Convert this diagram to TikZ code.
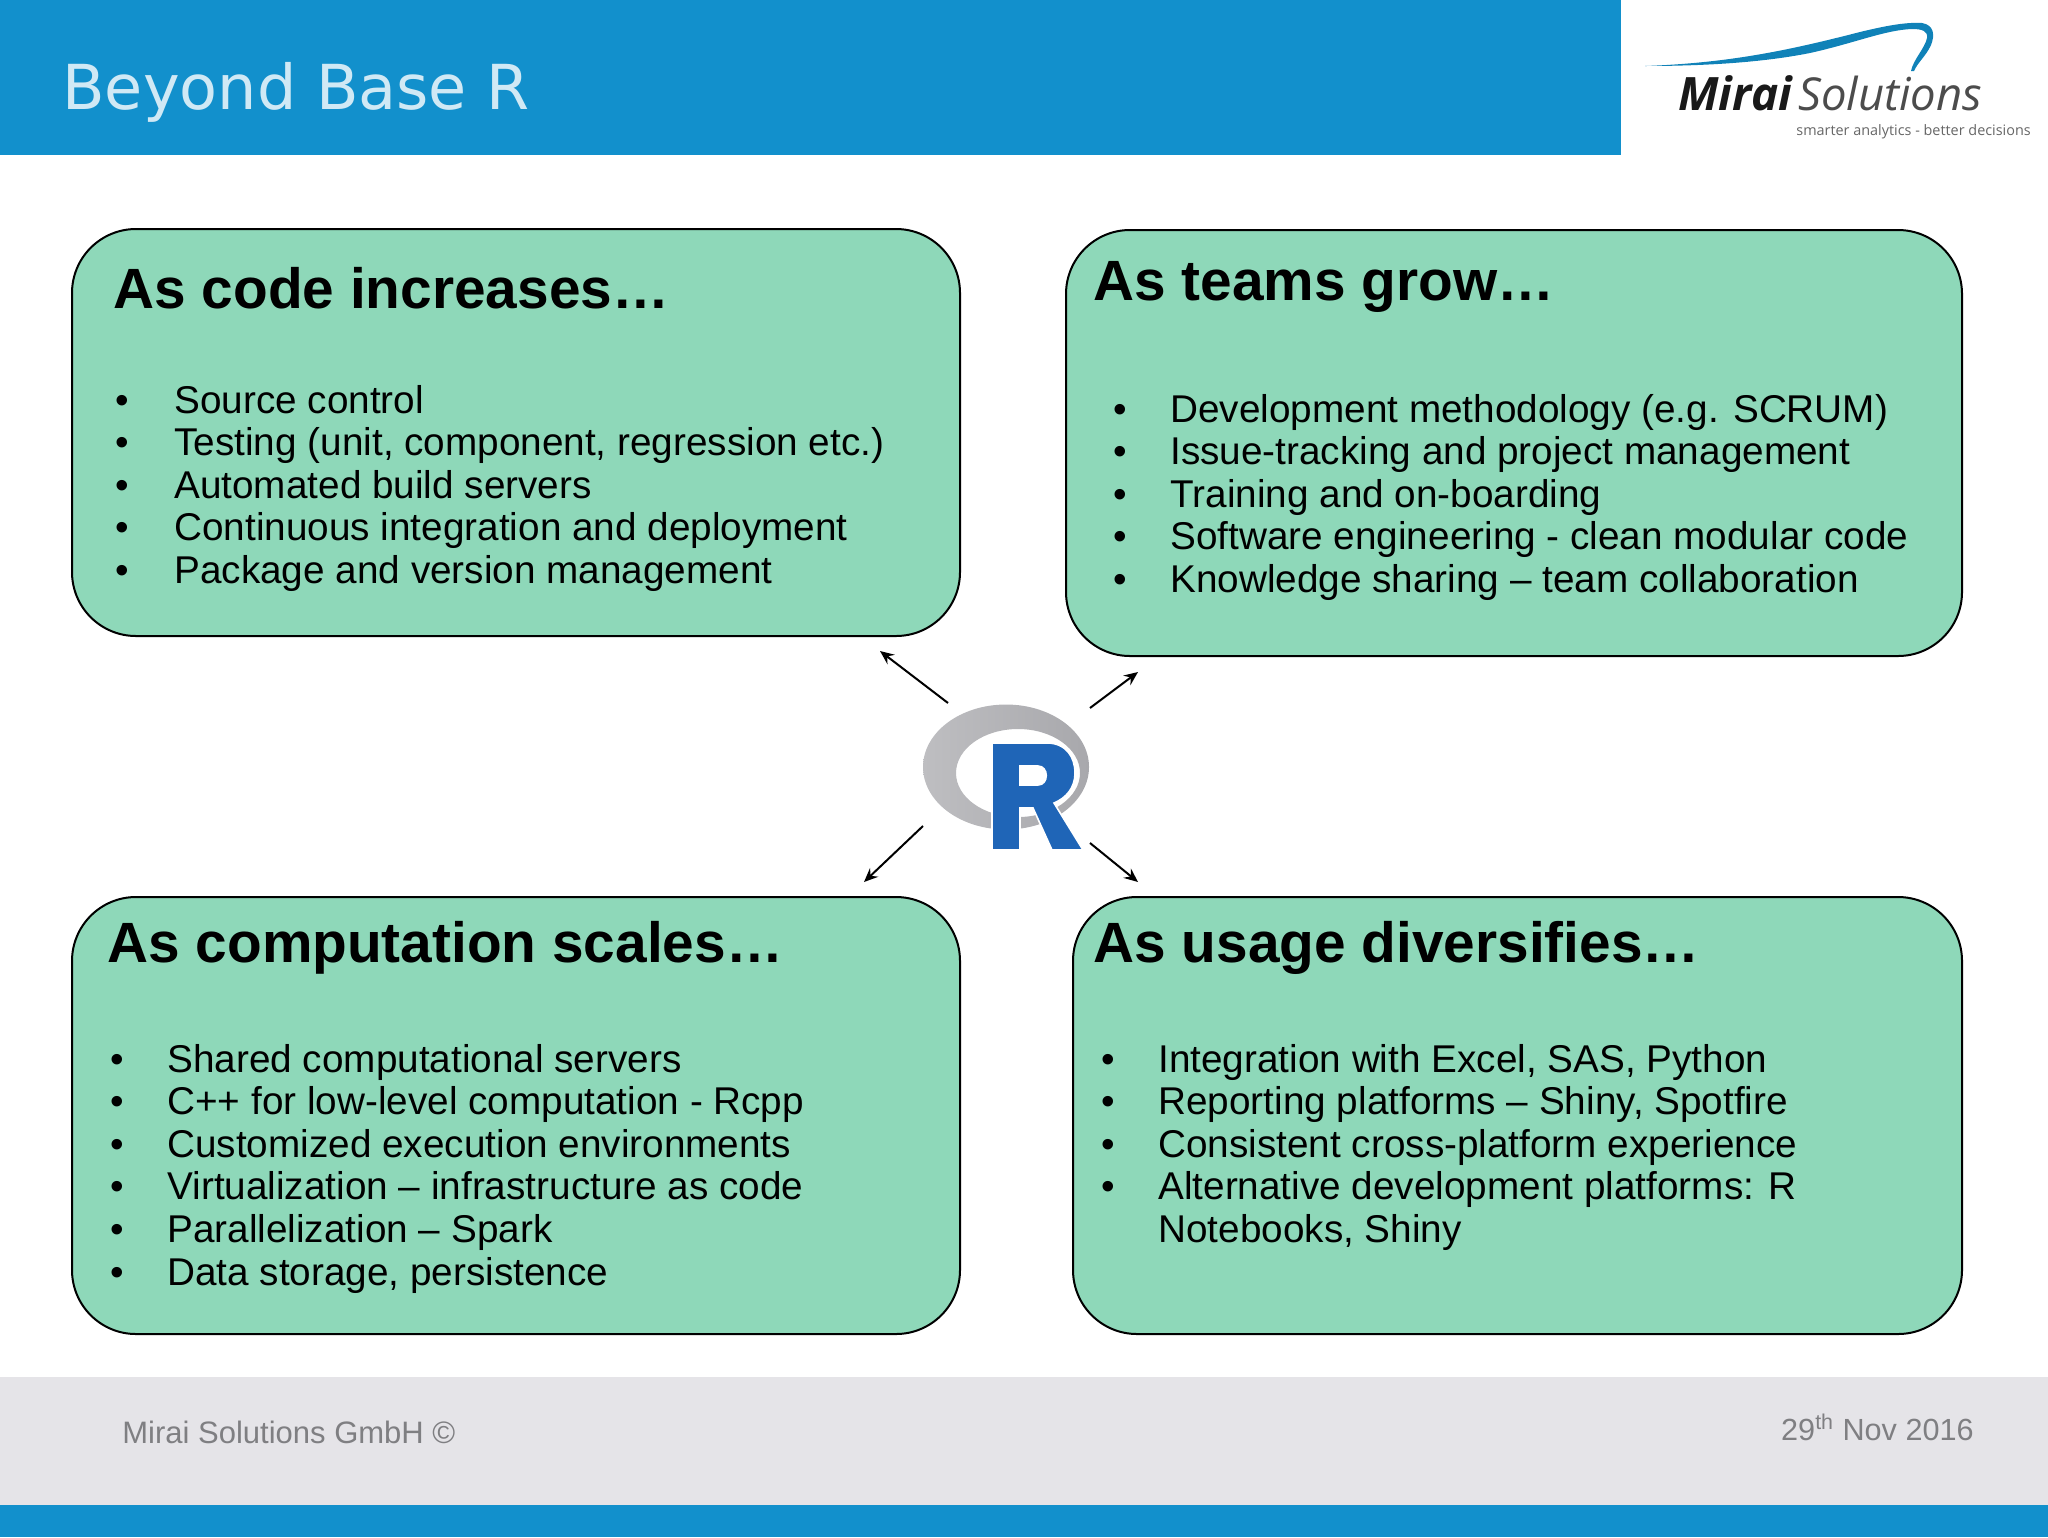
\documentclass[tikz,border=0pt]{standalone}
\usepackage{fontspec}
\setmainfont{Liberation Sans}
\newfontfamily\titlefont{DejaVu Sans}
\newfontfamily\logofont{Open Sans}
\usetikzlibrary{arrows.meta}
\definecolor{miraiblue}{HTML}{1290CC}
\definecolor{boxgreen}{HTML}{8ED8B9}
\definecolor{footgrey}{HTML}{E5E4E8}
\definecolor{footink}{HTML}{7F7F82}
\definecolor{ringlight}{HTML}{BEBEC1}
\definecolor{ringdark}{HTML}{A8A8AC}
\definecolor{rblue}{HTML}{1F65B7}
\tikzset{
  topicbox/.style={draw=black,line width=1pt,fill=boxgreen,rounded corners=32pt,inner sep=0pt},
  topichead/.style={anchor=base west,inner sep=0pt,font=\fontsize{28.4}{30}\selectfont\bfseries},
  topiclist/.style={anchor=base west,inner sep=0pt,font=\fontsize{19.35}{21.3}\selectfont},
  footnote/.style={inner sep=0pt,text=footink,font=\fontsize{15.5}{18}\selectfont},
  spoke/.style={line width=1pt,-{Stealth[length=7pt,width=6pt,inset=2.5pt]}},
}
\newcommand{\bulletlist}[2]{\begin{tabular}[t]{@{}p{#1}@{}l@{}}#2\end{tabular}}
\begin{document}
\begin{tikzpicture}[x=0.5pt,y=-0.5pt]
  \useasboundingbox (0,0) rectangle (2048,1537);
  % header and footer bands
  \fill[miraiblue] (0,0) rectangle (1621,155);
  \fill[footgrey] (0,1377) rectangle (2048,1505);
  \fill[miraiblue] (0,1505) rectangle (2048,1537);
  \node[anchor=base west,inner sep=0pt,text=white!80!miraiblue,font=\fontsize{31}{36}\selectfont\titlefont] (slidetitle) at (62,109) {Beyond Base R};
  % logo
  \node[anchor=base west,inner sep=0pt,font=\fontsize{23}{28}\selectfont\logofont\bfseries\itshape,text=black!90] (mirainame) at (1678,110) {Mirai};
  \node[anchor=base west,inner sep=0pt,font=\fontsize{22.7}{28}\selectfont\logofont\itshape,text=black!70] (solutionsname) at (1798,110) {Solutions};
  \node[anchor=base west,inner sep=0pt,font=\fontsize{7.2}{10}\selectfont\logofont,text=black!60] (tagline) at (1796,135) {smarter analytics - better decisions};
  \fill[miraiblue!90!black] (1645,66) .. controls (1730,63) and (1790,50) .. (1860,32)
    .. controls (1885,26) and (1905,22) .. (1922,23)
    .. controls (1934,25) and (1935,35) .. (1931,45)
    .. controls (1926,56) and (1918,62) .. (1914,71)
    -- (1911,71) .. controls (1913,60) and (1925,48) .. (1927,38)
    .. controls (1928,31) and (1922,29) .. (1912,29)
    .. controls (1885,30) and (1855,43) .. (1810,53)
    .. controls (1760,63) and (1700,66) .. (1645,66) -- cycle;
  % the four boxes
  \node[topicbox,minimum width=444pt,minimum height=203.5pt] (codebox) at (516,432.5) {};
  \node[topicbox,minimum width=448pt,minimum height=213pt] (teambox) at (1514,443) {};
  \node[topicbox,minimum width=444pt,minimum height=218.5pt] (computebox) at (516,1115.5) {};
  \node[topicbox,minimum width=444.5pt,minimum height=218.5pt] (usagebox) at (1517.5,1115.5) {};
  \node[topichead] (codehead) at (113,308) {As code increases…};
  \node[topichead] (teamhead) at (1093,300) {As teams grow…};
  \node[topichead] (computehead) at (107,962) {As computation scales…};
  \node[topichead] (usagehead) at (1093,962) {As usage diversifies…};
  \node[topiclist] (codelist) at (115,413) {\bulletlist{29.5pt}{
    • & Source control\\
    • & Testing (unit, component, regression etc.)\\
    • & Automated build servers\\
    • & Continuous integration and deployment\\
    • & Package and version management}};
  \node[topiclist] (teamlist) at (1113,422) {\bulletlist{28.5pt}{
    • & Development methodology (e.g. SCRUM)\\
    • & Issue-tracking and project management\\
    • & Training and on-boarding\\
    • & Software engineering - clean modular code\\
    • & Knowledge sharing – team collaboration}};
  \node[topiclist] (computelist) at (110,1072) {\bulletlist{28.5pt}{
    • & Shared computational servers\\
    • & C++ for low-level computation - Rcpp\\
    • & Customized execution environments\\
    • & Virtualization – infrastructure as code\\
    • & Parallelization – Spark\\
    • & Data storage, persistence}};
  \node[topiclist] (usagelist) at (1101,1072) {\bulletlist{28.5pt}{
    • & Integration with Excel, SAS, Python\\
    • & Reporting platforms – Shiny, Spotfire\\
    • & Consistent cross-platform experience\\
    • & Alternative development platforms: R\\
      & Notebooks, Shiny}};
  % R logo
  \shade[left color=ringlight,right color=ringdark,even odd rule] (1006,767) ellipse (83 and 62.5) (1018,773) ellipse (62 and 44);
  \fill[rblue,draw=white,line width=0.8pt,even odd rule] (992,743) -- (1047,743)
    .. controls (1066,743) and (1075,757) .. (1075,773)
    .. controls (1075,788) and (1066,798) .. (1054,803)
    -- (1083,850) -- (1052,850) -- (1033,808) -- (1020,808) -- (1020,850) -- (992,850) -- cycle
    (1020,766) -- (1038,766) .. controls (1049,766) and (1049,785) .. (1038,785) -- (1020,785) -- cycle;
  % arrows out of the logo
  \coordinate (codefoot) at (948,703);
  \coordinate (codetip) at (880,651);
  \coordinate (teamfoot) at (1090,708);
  \coordinate (teamtip) at (1138,672);
  \coordinate (computefoot) at (923,826);
  \coordinate (computetip) at (864,882);
  \coordinate (usagefoot) at (1090,843);
  \coordinate (usagetip) at (1138,882);
  \draw[spoke] (codefoot) -- (codetip);
  \draw[spoke] (teamfoot) -- (teamtip);
  \draw[spoke] (computefoot) -- (computetip);
  \draw[spoke] (usagefoot) -- (usagetip);
  % footer text
  \node[footnote,anchor=base west] (footleft) at (122,1443) {Mirai Solutions GmbH ©};
  \node[footnote,anchor=base east,font=\fontsize{15.3}{18}\selectfont] (footright) at (1974,1440) {29\textsuperscript{th} Nov 2016};
\end{tikzpicture}
\end{document}
